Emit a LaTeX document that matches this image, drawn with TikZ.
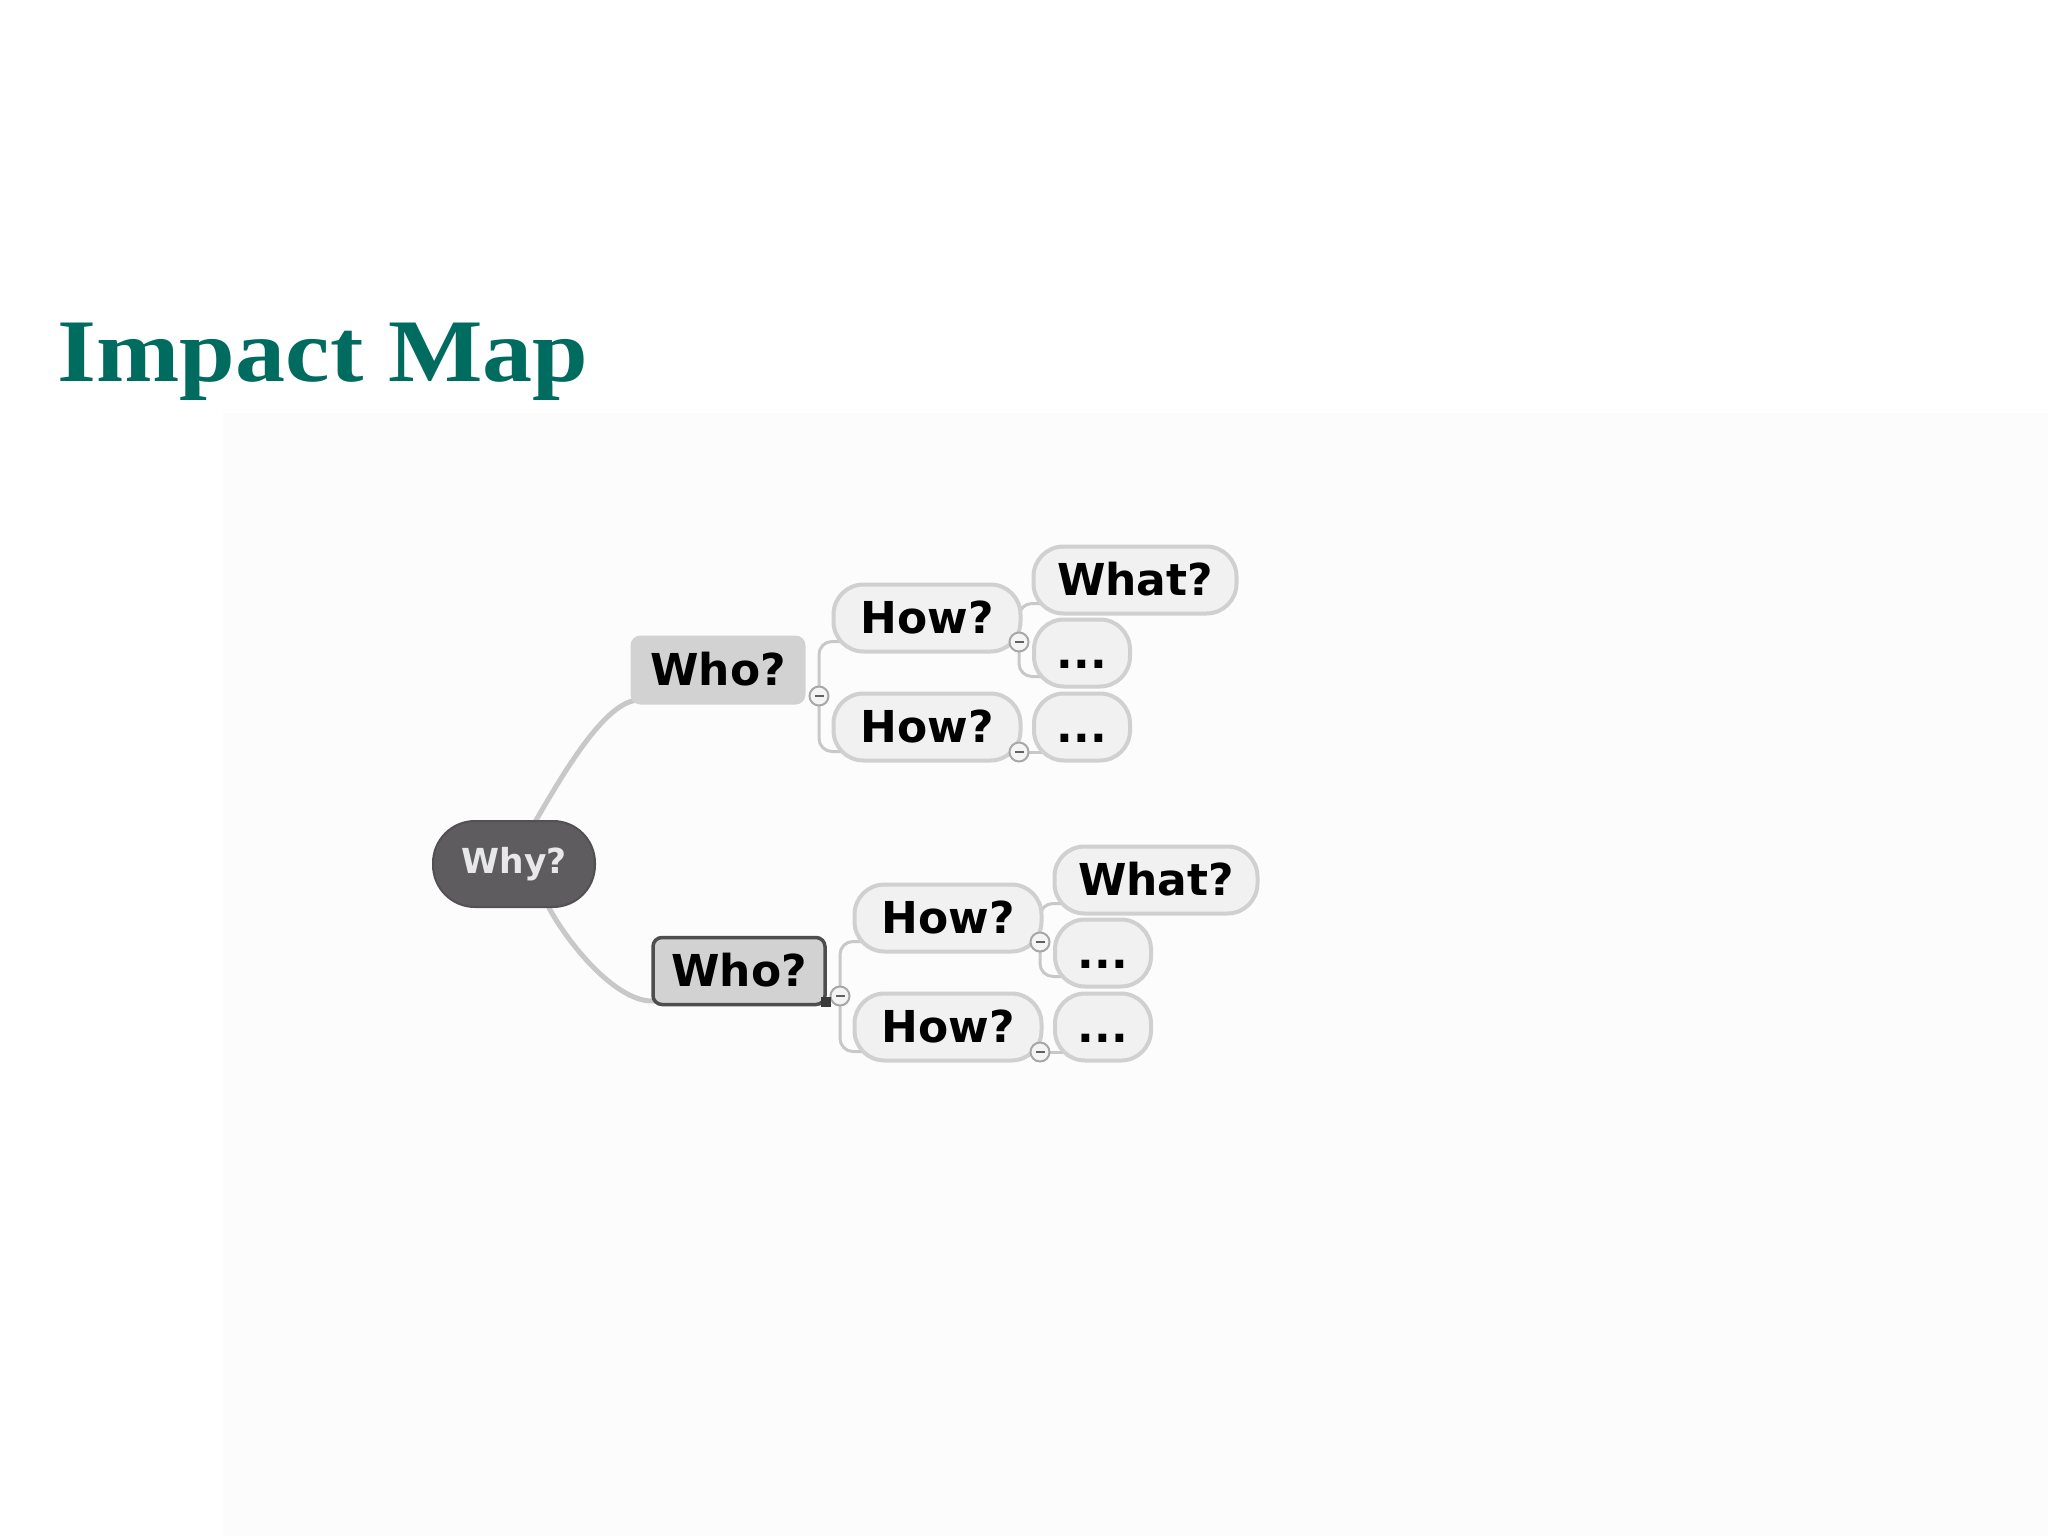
\documentclass[tikz,border=0pt]{standalone}
\usepackage{fontspec}
\setmainfont{Liberation Serif}
\newfontfamily\nodefont{DejaVu Sans}
\usetikzlibrary{calc,backgrounds}
\newlength\pxl \setlength\pxl{0.01cm}
\definecolor{titlecol}{HTML}{006B5F}
\definecolor{pagetint}{HTML}{FCFCFD}
\definecolor{whyfill}{HTML}{5E5C5F}
\definecolor{whyline}{HTML}{525053}
\definecolor{whytext}{HTML}{E8E8E8}
\definecolor{whofill}{HTML}{D2D2D2}
\definecolor{wholine}{HTML}{4E4E4E}
\definecolor{howfill}{HTML}{F1F1F1}
\definecolor{howline}{HTML}{D0D0D0}
\definecolor{conncol}{HTML}{C8C8C8}
\definecolor{circline}{HTML}{A8A8A8}
\definecolor{circfill}{HTML}{F4F4F4}
\definecolor{minuscol}{HTML}{606060}
\definecolor{squarecol}{HTML}{3A3A3A}
\begin{document}
\begin{tikzpicture}[x=0.01cm,y=-0.01cm,
  base/.style={inner sep=0pt, outer sep=0pt, text=black,
    font=\nodefont\fontsize{12.5}{15}\selectfont\bfseries,
    text height=9.2pt, text depth=0.6pt},
  hownode/.style={base, fill=howfill, draw=howline, line width=4\pxl,
    rounded corners=30\pxl, minimum height=67\pxl},
  whoplain/.style={base, fill=whofill, rounded corners=10\pxl,
    minimum width=175\pxl, minimum height=69\pxl},
  whosel/.style={base, fill=whofill, draw=wholine, line width=3.5\pxl,
    rounded corners=9\pxl, minimum width=172\pxl, minimum height=67\pxl},
  whynode/.style={inner sep=0pt, fill=whyfill, draw=whyline, line width=2\pxl,
    rounded corners=42\pxl, minimum width=162\pxl, minimum height=86\pxl,
    text=whytext, font=\nodefont\fontsize{9.8}{12}\selectfont\bfseries},
  collapse/.style={circle, draw=circline, fill=circfill, line width=2\pxl,
    minimum size=19\pxl, inner sep=0pt,
    path picture={\draw[minuscol, line width=2.2\pxl]
      ([xshift=-4.5\pxl]path picture bounding box.center) --
      ([xshift=4.5\pxl]path picture bounding box.center);}},
  bigconn/.style={draw=conncol, line width=5\pxl, line cap=round},
  conn/.style={draw=conncol, line width=3\pxl, rounded corners=13\pxl}
]
\useasboundingbox (0,0) rectangle (2048,1536);

% title
\node[anchor=base west, inner sep=0pt, text=titlecol,
      font=\fontsize{25.4}{30}\selectfont\bfseries] (title) at (57,381)
      {\scalebox{1.12}[1]{Impact Map}};

% root
\node[whynode] (why) at (514,864) {Why?};

% upper branch
\node[whoplain] (who1) at (718,670) {Who?};
\node[hownode, minimum width=187\pxl] (how1) at (927,618) {How?};
\node[hownode, minimum width=187\pxl] (how2) at (927,727) {How?};
\node[hownode, minimum width=203\pxl] (what1) at (1135,580) {What?};
\node[hownode, minimum width=96\pxl] (dots1) at (1082,653) {...};
\node[hownode, minimum width=96\pxl] (dots2) at (1082,727) {...};
\node[collapse] (c1) at (819,696) {};
\node[collapse] (c2) at (1019,642) {};
\node[collapse] (c3) at (1019,752) {};

% lower branch
\node[whosel] (who2) at (739,971) {Who?};
\node[hownode, minimum width=187\pxl] (how3) at (948,918) {How?};
\node[hownode, minimum width=187\pxl] (how4) at (948,1027) {How?};
\node[hownode, minimum width=203\pxl] (what2) at (1156,880) {What?};
\node[hownode, minimum width=96\pxl] (dots3) at (1103,953) {...};
\node[hownode, minimum width=96\pxl] (dots4) at (1103,1027) {...};
\node[collapse] (c4) at (840,996) {};
\node[collapse] (c5) at (1040,942) {};
\node[collapse] (c6) at (1040,1052) {};
\node[fill=squarecol, inner sep=0pt, minimum size=10\pxl] (sq) at (826,1002) {};

\begin{pgfonlayer}{background}
  \fill[white] (0,0) rectangle (2048,1536);
  \fill[pagetint] (223,413) rectangle (2048,1536);
  % root to who
  \draw[bigconn] ($(why.north)+(21,2)$) .. controls ($(why.north)+(50,-48)$)
     and ($(who1.south west)+(-28,2)$) .. ($(who1.south west)+(4,-4)$);
  \draw[bigconn] ($(why.south)+(35,0)$) .. controls ($(why.south)+(60,45)$)
     and ($(who2.south west)+(-30,2)$) .. ($(who2.south west)+(4,-4)$);
  % upper group
  \draw[conn] (c1.center) |- ($(how1.south west)+(9,-10)$);
  \draw[conn] (c1.center) |- ($(how2.south west)+(11,-9)$);
  \draw[conn] (c2.center) |- ($(what1.south west)+(9,-10)$);
  \draw[conn] (c2.center) |- ($(dots1.south west)+(9,-10)$);
  \draw[conn] (c3.center) -- ($(c3 -| dots2.west)+(12,0)$);
  % lower group
  \draw[conn] (c4.center) |- ($(how3.south west)+(9,-10)$);
  \draw[conn] (c4.center) |- ($(how4.south west)+(11,-9)$);
  \draw[conn] (c5.center) |- ($(what2.south west)+(9,-10)$);
  \draw[conn] (c5.center) |- ($(dots3.south west)+(9,-10)$);
  \draw[conn] (c6.center) -- ($(c6 -| dots4.west)+(12,0)$);
\end{pgfonlayer}
\end{tikzpicture}
\end{document}
